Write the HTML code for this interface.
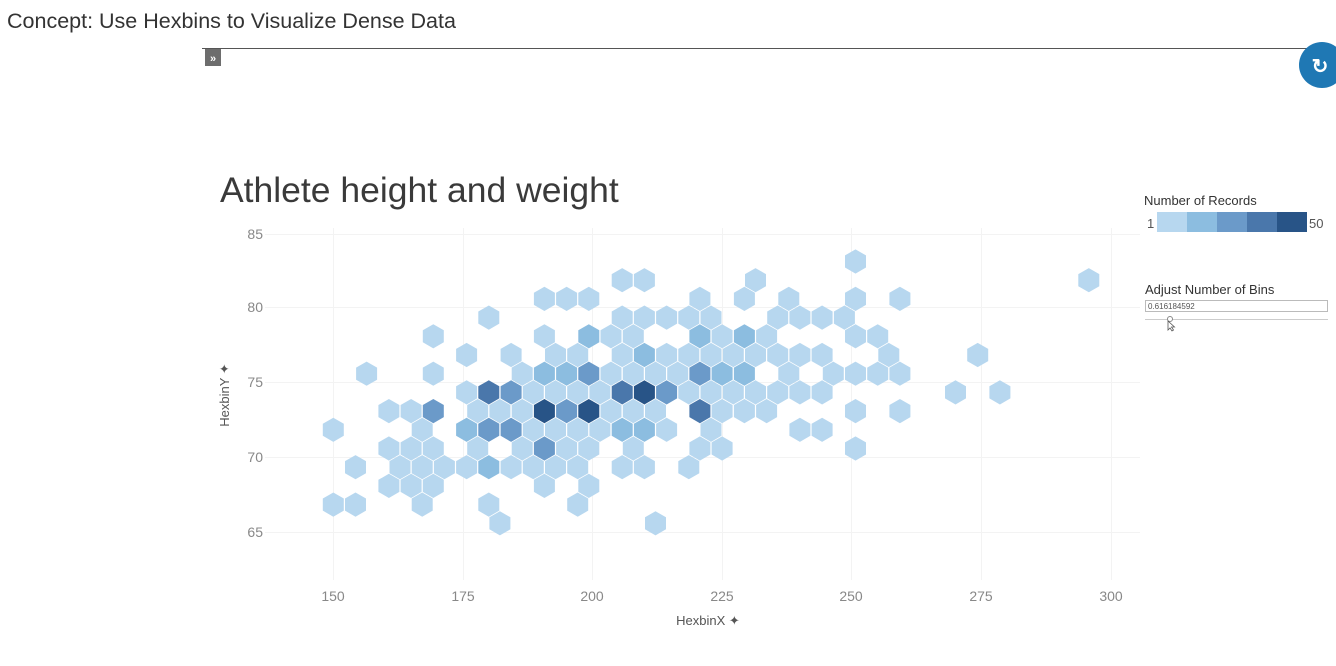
<!DOCTYPE html>
<html><head><meta charset="utf-8"><style>
html,body{margin:0;padding:0;background:#fff;width:1336px;height:666px;overflow:hidden;font-family:"Liberation Sans",sans-serif}
</style></head><body>
<svg id="s" width="1336" height="666" xmlns="http://www.w3.org/2000/svg" font-family="Liberation Sans, sans-serif">
<text x="7" y="28" font-size="21.5" fill="#333">Concept: Use Hexbins to Visualize Dense Data</text>
<line x1="202" y1="48.5" x2="1336" y2="48.5" stroke="#555" stroke-width="1"/>
<rect x="205" y="49" width="16" height="17" fill="#6d6d6d"/>
<text x="213" y="62" font-size="11" fill="#fff" text-anchor="middle" font-weight="bold">»</text>
<circle cx="1322" cy="65" r="23" fill="#1f78b4"/>
<text x="1320" y="73" font-size="20" fill="#fff" text-anchor="middle" font-weight="bold">↻</text>
<text x="220" y="202" font-size="35.5" fill="#3a3a3a">Athlete height and weight</text>
<g stroke="#f3f3f3" stroke-width="1">
<line x1="265" y1="234.5" x2="1140" y2="234.5"/><line x1="265" y1="307.5" x2="1140" y2="307.5"/>
<line x1="265" y1="382.5" x2="1140" y2="382.5"/><line x1="265" y1="457.5" x2="1140" y2="457.5"/>
<line x1="265" y1="532.5" x2="1140" y2="532.5"/>
<line x1="333.5" y1="228" x2="333.5" y2="580"/><line x1="463.5" y1="228" x2="463.5" y2="580"/>
<line x1="592.5" y1="228" x2="592.5" y2="580"/><line x1="722.5" y1="228" x2="722.5" y2="580"/>
<line x1="851.5" y1="228" x2="851.5" y2="580"/><line x1="981.5" y1="228" x2="981.5" y2="580"/>
<line x1="1111.5" y1="228" x2="1111.5" y2="580"/>
</g>
<g font-size="14" fill="#888" text-anchor="end">
<text x="263" y="239">85</text><text x="263" y="312">80</text><text x="263" y="387">75</text><text x="263" y="462">70</text><text x="263" y="537">65</text>
</g>
<g font-size="14" fill="#888" text-anchor="middle">
<text x="333" y="601">150</text><text x="463" y="601">175</text><text x="592" y="601">200</text><text x="722" y="601">225</text><text x="851" y="601">250</text><text x="981" y="601">275</text><text x="1111" y="601">300</text>
</g>
<text x="708" y="625" font-size="13" fill="#555" text-anchor="middle">HexbinX ✦</text>
<text transform="translate(229,395) rotate(-90)" font-size="13" fill="#555" text-anchor="middle">HexbinY ✦</text>
<g id="hx"></g>
<text x="1144" y="205" font-size="13" fill="#333">Number of Records</text>
<text x="1147" y="228" font-size="13" fill="#555">1</text>
<rect x="1157" y="212" width="30" height="20" fill="#b7d7ef"/>
<rect x="1187" y="212" width="30" height="20" fill="#8cbde0"/>
<rect x="1217" y="212" width="30" height="20" fill="#6b9ac9"/>
<rect x="1247" y="212" width="30" height="20" fill="#4a77ab"/>
<rect x="1277" y="212" width="30" height="20" fill="#285487"/>
<text x="1309" y="228" font-size="13" fill="#555">50</text>
<text x="1145" y="294" font-size="13" fill="#333">Adjust Number of Bins</text>
<rect x="1145.5" y="300.5" width="182" height="11" fill="#fff" stroke="#bbb"/>
<text x="1148" y="309" font-size="8" fill="#555">0.616184592</text>
<line x1="1145" y1="319.5" x2="1328" y2="319.5" stroke="#ccc"/>
<circle cx="1170" cy="319" r="2.5" fill="#fff" stroke="#888"/>
<path d="M1168 321 l0 9 l2 -2 l2 3 l1.5 -1 l-2 -3 l3 0 z" fill="#fff" stroke="#555" stroke-width="0.8"/>
</svg>
<script>
var rows={14:"47",13:"26,28,38,68",12:"19,21,23,33,37,41,47,51",
11:"14,26,28,30,32,34,40,42,44,46",10:"9,19,23:2,25,27,33:2,35,37:2,39,47,49",
9:"12,16,20,22,26,28:2,30,32,34,36,38,40,42,44,50,58",
8:"3,9,17,19:2,21:2,23:3,25,27,29,31,33:3,35:2,37:2,41,45,47,49,51",
7:"12,14:4,16:3,18,20,22,24,26:4,28:5,30:3,32,34,36,38,40,42,44,56,60",
6:"5,7,9:3,13,15,17,19:5,21:3,23:5,25,27,29,33:4,35,37,39,47,51",
5:"0,8,12:2,14:3,16:3,18,20,22,24,26:2,28:2,30,34,42,44",
4:"5,7,9,13,17,19:3,21,23,27,33,35,47",
3:"2,6,8,10,12,14:2,16,18,20,22,26,28,32",
2:"5,7,9,19,23",1:"0,2,8,14,22",0:"15,29"};
var col=["","#b7d7ef","#8cbde0","#6b9ac9","#4a77ab","#285487"];
var R=12.1,s=10.5,h="";
for(var r in rows){var cy=523.3-r*18.7;rows[r].split(",").forEach(function(t){var p=t.split(":");var k=+p[0],l=p[1]?+p[1]:1;var cx=333.3+k*11.11;
h+='<polygon points="'+[cx,cy-R,cx+s,cy-R/2,cx+s,cy+R/2,cx,cy+R,cx-s,cy+R/2,cx-s,cy-R/2].map(function(v){return v.toFixed(1)}).join(",")+'" fill="'+col[l]+'"/>';});}
document.getElementById("hx").innerHTML=h;
</script>
</body></html>
